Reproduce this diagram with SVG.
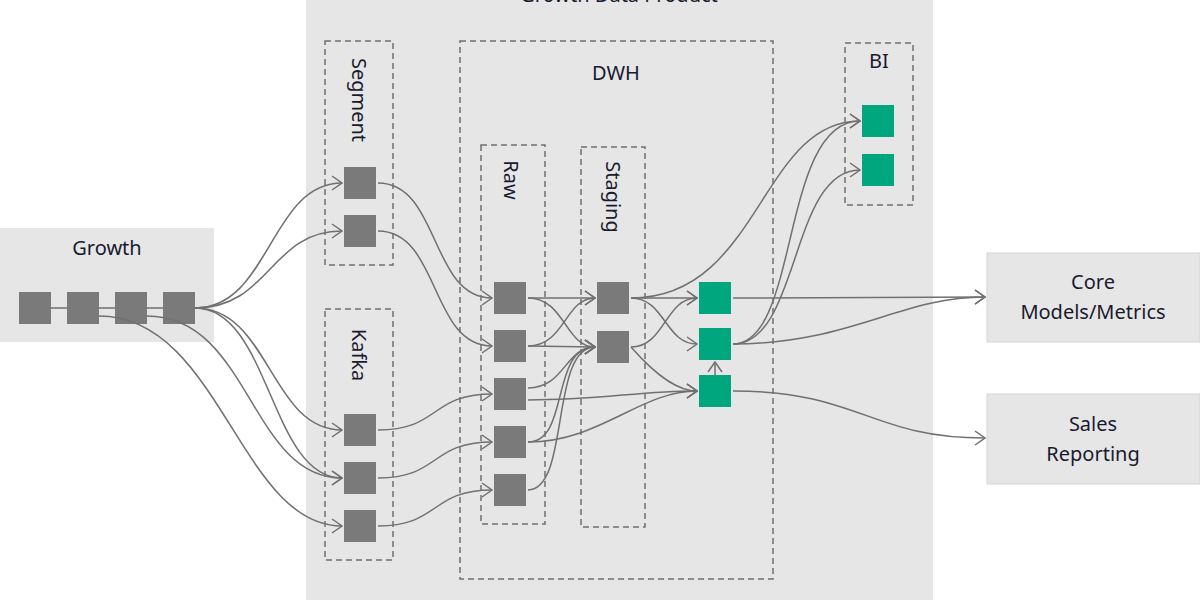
<svg xmlns="http://www.w3.org/2000/svg" width="1200" height="600" viewBox="0 0 1200 600">
<style>
.t{font-family:"Noto Sans","Open Sans",sans-serif;font-size:20px;fill:#1a1a2e;text-anchor:middle;dominant-baseline:central}
.d{fill:none;stroke:#707070;stroke-width:1.5;stroke-dasharray:6 4}
.n{fill:#7a7a7a}
.g{fill:#00a67e}
.c path{fill:none;stroke:#707070;stroke-width:1.5;marker-end:url(#a)}
.c path.p{marker-end:none}
.b{fill:#e6e6e6}
</style>
<defs><marker id="a" viewBox="0 0 12 16" refX="11" refY="8" markerWidth="12" markerHeight="16" markerUnits="userSpaceOnUse" orient="auto"><path d="M1 1 L11 8 L1 15" fill="none" stroke="#707070" stroke-width="1.5"/></marker></defs>
<rect width="1200" height="600" fill="#fff"/>
<g id="product"><rect class="b" x="306" y="0" width="627" height="600"/><text class="t" x="619" y="-6">Growth Data Product</text></g>
<g id="growth"><rect class="b" x="0" y="228" width="214" height="114"/><text class="t" x="107" y="247">Growth</text>
<rect class="n" x="19" y="292" width="32" height="32"/><rect class="n" x="67" y="292" width="32" height="32"/><rect class="n" x="115" y="292" width="32" height="32"/><rect class="n" x="163" y="292" width="32" height="32"/></g>
<g id="segment"><rect class="d" x="325" y="41" width="68" height="224"/><text class="t" transform="translate(359,100) rotate(90)">Segment</text>
<rect class="n" x="344" y="167" width="32" height="32"/><rect class="n" x="344" y="215" width="32" height="32"/></g>
<g id="kafka"><rect class="d" x="325" y="309" width="68" height="251"/><text class="t" transform="translate(359,355) rotate(90)">Kafka</text>
<rect class="n" x="344" y="414" width="32" height="32"/><rect class="n" x="344" y="462" width="32" height="32"/><rect class="n" x="344" y="510" width="32" height="32"/></g>
<g id="dwh"><rect class="d" x="460" y="41" width="313" height="538"/><text class="t" x="616" y="72">DWH</text></g>
<g id="raw"><rect class="d" x="481" y="145" width="64" height="379"/><text class="t" transform="translate(511,180) rotate(90)">Raw</text>
<rect class="n" x="494" y="282" width="32" height="32"/><rect class="n" x="494" y="330" width="32" height="32"/><rect class="n" x="494" y="378" width="32" height="32"/><rect class="n" x="494" y="426" width="32" height="32"/><rect class="n" x="494" y="474" width="32" height="32"/></g>
<g id="staging"><rect class="d" x="581" y="147" width="64" height="380"/><text class="t" transform="translate(613,197) rotate(90)">Staging</text>
<rect class="n" x="597" y="282" width="32" height="32"/><rect class="n" x="597" y="331" width="32" height="32"/></g>
<g id="models"><rect class="g" x="699" y="282" width="32" height="32"/><rect class="g" x="699" y="328" width="32" height="32"/><rect class="g" x="699" y="375" width="32" height="32"/></g>
<g id="bi"><rect class="d" x="845" y="43" width="68" height="162"/><text class="t" x="879" y="60">BI</text>
<rect class="g" x="862" y="105" width="32" height="32"/><rect class="g" x="862" y="154" width="32" height="32"/></g>
<g id="core"><rect class="b" x="987" y="253" width="213" height="89" stroke="#d4d4d4"/><text class="t" x="1093" y="281">Core</text><text class="t" x="1093" y="311">Models/Metrics</text></g>
<g id="sales"><rect class="b" x="987" y="394" width="213" height="90" stroke="#d4d4d4"/><text class="t" x="1093" y="423">Sales</text><text class="t" x="1093" y="453">Reporting</text></g>
<g id="connectors" class="c">
<path class="p" d="M51 308 L67 308 M99 308 L115 308 M147 308 L163 308"/>
<path d="M195 308 C270 308 270 183 342 183"/>
<path d="M195 308 C270 308 270 231 342 231"/>
<path d="M195 308 C270 308 270 430 342 430"/>
<path d="M195 308 C270 308 270 478 342 478"/>
<path d="M147 316 C250 316 250 478 342 478"/>
<path d="M99 316 C220 316 240 526 342 526"/>
<path d="M378 183 C440 183 430 298 492 298"/>
<path d="M378 231 C440 231 430 346 492 346"/>
<path d="M378 430 C440 430 430 394 492 394"/>
<path d="M378 478 C440 478 430 442 492 442"/>
<path d="M378 526 C440 526 430 490 492 490"/>
<path d="M528 298 L595 298"/>
<path d="M528 298 C565 298 565 347 595 347"/>
<path d="M528 346 C565 346 565 298 595 298"/>
<path d="M528 346 L595 347"/>
<path d="M528 388 C565 388 565 347 595 347"/>
<path d="M528 400 C600 400 640 391 697 391"/>
<path d="M528 442 C570 442 550 347 595 347"/>
<path d="M528 442 C600 442 640 391 697 391"/>
<path d="M528 490 C570 490 550 347 595 347"/>
<path d="M631 298 L697 298"/>
<path d="M631 298 C665 298 665 344 697 344"/>
<path d="M631 298 C760 298 760 121 860 121"/>
<path d="M631 347 C665 347 665 298 697 298"/>
<path d="M631 347 C660 380 680 391 697 391"/>
<path d="M715 375 L715 362"/>
<path d="M733 298 L985 297"/>
<path d="M733 344 C850 344 900 297 985 297"/>
<path d="M733 344 C800 344 780 121 860 121"/>
<path d="M733 344 C800 344 790 170 860 170"/>
<path d="M733 391 C860 391 870 438 985 438"/>
</g>
</svg>
